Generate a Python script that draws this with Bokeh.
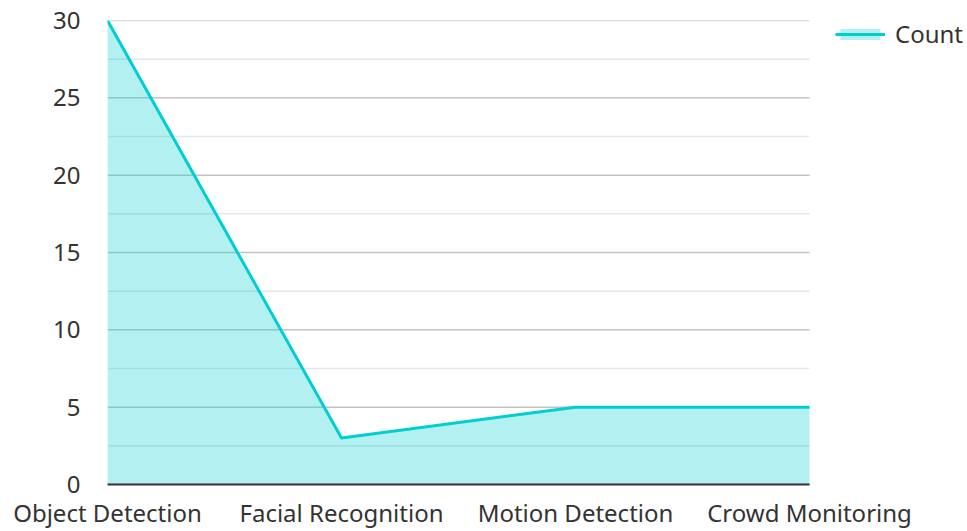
from bokeh.plotting import figure
from bokeh.models import ColumnDataSource, FixedTicker, Legend, LegendItem
from bokeh.embed import file_html
from bokeh.resources import INLINE

categories = ["Object Detection", "Facial Recognition", "Motion Detection", "Crowd Monitoring"]
counts = [30, 3, 5, 5]
y_ticks = [0, 5, 10, 15, 20, 25, 30]
series_name = "Count"

xs = list(range(len(categories)))
src = ColumnDataSource(dict(x=xs, y=counts, y0=[0] * len(xs)))

FONT = "Noto Sans"
LINE = "#00CED1"
FS = "24px"

W, H = 967, 531
LEFT, TOP, BOTTOM = 107, 20, 44
DATA_W = 702  # pixel width of the category span
frame_w = W - LEFT
x_end = (len(categories) - 1) * frame_w / DATA_W

p = figure(width=W, height=H, output_backend="svg", toolbar_location=None,
           x_range=(0, x_end), y_range=(0, y_ticks[-1]),
           min_border_left=LEFT, min_border_top=TOP, min_border_bottom=BOTTOM, min_border_right=0)
p.outline_line_color = None

# grid lines limited to the category span
minor_vals = [t + (y_ticks[1] - y_ticks[0]) / 2 for t in y_ticks[:-1]]
major_src = ColumnDataSource(dict(x0=[0] * len(y_ticks), x1=[xs[-1]] * len(y_ticks), y=y_ticks))
minor_src = ColumnDataSource(dict(x0=[0] * len(minor_vals), x1=[xs[-1]] * len(minor_vals), y=minor_vals))
p.segment(x0="x0", x1="x1", y0="y", y1="y", source=minor_src, line_color="#e6e6e6", line_width=1.5)
p.segment(x0="x0", x1="x1", y0="y", y1="y", source=major_src, line_color="#c4c4c4", line_width=1.5)

fill = p.varea(x="x", y1="y0", y2="y", source=src, fill_color=LINE, fill_alpha=0.3)
line = p.line(x="x", y="y", source=src, line_color=LINE, line_width=3)

p.xaxis.ticker = FixedTicker(ticks=xs)
p.xaxis.bounds = (0, xs[-1])
p.xaxis.major_label_overrides = {i: c for i, c in enumerate(categories)}
p.xaxis.axis_line_color = "#333333"
p.xaxis.axis_line_width = 2
p.xaxis.major_tick_line_color = None
p.xaxis.minor_tick_line_color = None
p.xaxis.major_label_standoff = 5
p.xaxis.major_label_text_font = FONT
p.xaxis.major_label_text_font_size = FS
p.xaxis.major_label_text_color = "#333333"

p.yaxis.ticker = FixedTicker(ticks=y_ticks)
p.yaxis.axis_line_color = None
p.yaxis.major_tick_line_color = None
p.yaxis.minor_tick_line_color = None
p.yaxis.major_label_standoff = 21
p.yaxis.major_label_text_font = FONT
p.yaxis.major_label_text_font_size = FS
p.yaxis.major_label_text_color = "#333333"

p.xgrid.grid_line_color = None
p.ygrid.grid_line_color = None

legend = Legend(items=[LegendItem(label=series_name, renderers=[fill, line])],
                location=(728, 434), border_line_color=None, background_fill_alpha=0,
                label_text_font=FONT, label_text_font_size=FS, label_text_color="#333333",
                glyph_width=50, glyph_height=14, padding=0, margin=0, spacing=0,
                label_standoff=10)
p.add_layout(legend, "center")

open("out.html", "w").write(file_html(p, INLINE))
